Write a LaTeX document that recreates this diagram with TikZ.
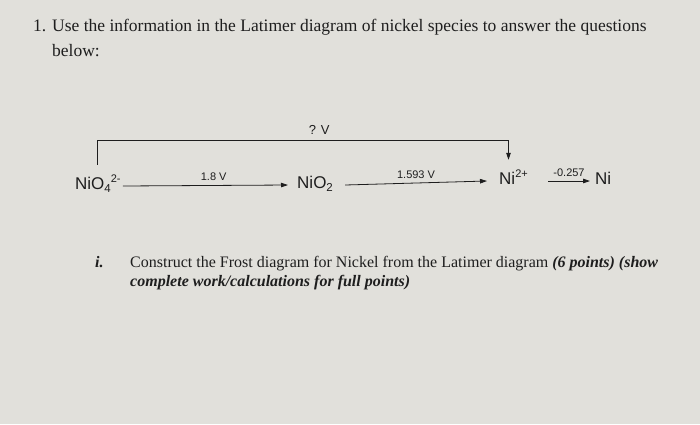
\documentclass[tikz,border=0pt]{standalone}
\usepackage{fontspec}
\setmainfont{Liberation Serif}
\newfontfamily\diagfont{Liberation Sans}
\usetikzlibrary{positioning,arrows.meta}
\definecolor{paper}{HTML}{E1E0DB}
\definecolor{ink}{HTML}{1E1E1E}
\newcommand{\chsub}[1]{\raisebox{-3.5pt}{\fontsize{11.5}{12}\selectfont #1}}
\newcommand{\chsup}[1]{\raisebox{7pt}{\fontsize{11}{12}\selectfont #1}}
\begin{document}
\begin{tikzpicture}[x=1pt,y=-1pt,
	prose/.style={anchor=base west, inner sep=0pt, text=ink, font=\fontsize{17.5}{20}\selectfont},
	species/.style={anchor=base west, inner sep=0pt, text height=10pt, text depth=4pt, text=ink, font=\diagfont\fontsize{17}{20}\selectfont},
	potential/.style={above, inner sep=4pt, text=ink, font=\diagfont\fontsize{11}{13}\selectfont},
	redox/.style={draw=ink, line width=0.8pt, -{Triangle[length=7pt,width=4.5pt]}}]
	\fill[paper] (0,0) rectangle (700,424);
	\useasboundingbox (0,0) rectangle (700,424);

	% question
	\node[prose] (qnum) at (33,31) {1.};
	\node[prose] (qtext) at (52,31) {Use the information in the Latimer diagram of nickel species to answer the questions};
	\node[prose] (qtext2) at (52,56) {below:};

	% latimer diagram
	\node[species] (nio4) at (75,189) {NiO\chsub{4}\chsup{2-}};
	\node[species] (nio2) at (297,188) {NiO\chsub{2}};
	\node[species] (ni2) at (499,184) {Ni\chsup{2+}};
	\node[species] (ni) at (595,184) {Ni};

	\draw[redox] ([xshift=2pt]nio4.east) -- ([xshift=-9pt]nio2.west) node[potential, pos=0.55] {1.8 V};
	\draw[redox] ([xshift=12pt]nio2.east) -- ([xshift=-12pt]ni2.west) node[potential, midway] {1.593 V};
	\draw[redox] ([xshift=20pt]ni2.east) -- ([xshift=-5pt]ni.west) node[potential, midway] {-0.257};

	\draw[redox] ([xshift=-1pt,yshift=14pt]nio4.north) -- ++(0,-24) -| ([xshift=-5pt,yshift=14pt]ni2.north)
		node[potential, pos=0.27, inner sep=6pt, font=\diagfont\fontsize{13}{15}\selectfont] {? V};

	% part i
	\node[prose, font=\bfseries\itshape\fontsize{16}{19}\selectfont] (pnum) at (95,267) {i.};
	\node[prose, font=\fontsize{16}{19}\selectfont] (ptext) at (130,267) {Construct the Frost diagram for Nickel from the Latimer diagram \textbf{\textit{(6 points) (show}}};
	\node[prose, font=\bfseries\itshape\fontsize{16}{19}\selectfont] (ptext2) at (130,286) {complete work/calculations for full points)};
\end{tikzpicture}
\end{document}
